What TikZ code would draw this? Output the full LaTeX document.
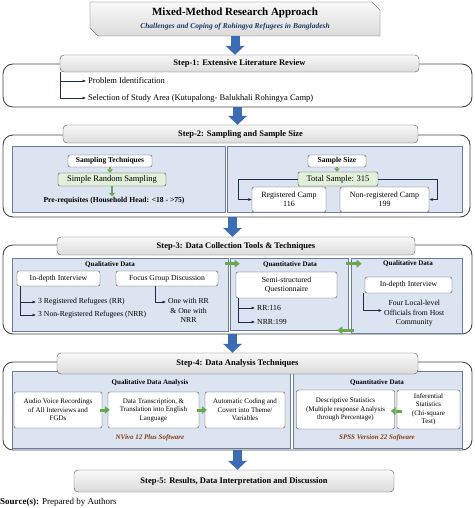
\documentclass[tikz,border=0pt]{standalone}
\usepackage{fontspec}
\setmainfont{Liberation Serif}
\usepackage{xcolor}
\usetikzlibrary{arrows.meta,positioning,shapes.misc,calc}
\definecolor{navy}{HTML}{1F3864}
\definecolor{arrblue}{HTML}{3D6CB5}
\definecolor{panelfill}{HTML}{DCE4F1}
\definecolor{panelline}{HTML}{6C7C9E}
\definecolor{gfill}{HTML}{E2EFD9}
\definecolor{grn}{HTML}{6AA84F}
\definecolor{linkc}{HTML}{1F2D4A}
\definecolor{softred}{HTML}{843C0C}
\tikzset{
  hdr/.style={draw=gray!65!black, rounded corners=4pt, top color=gray!5,
              bottom color=gray!28, inner sep=0pt,
              font=\fontsize{8.5}{10}\selectfont\bfseries},
  outer/.style={draw=gray!55!black, line width=0.9pt, rounded corners=10pt,
                inner sep=0pt},
  panel/.style={draw=panelline, fill=panelfill, line width=0.6pt, inner sep=0pt},
  box/.style={draw=gray!60!black, fill=white, rounded corners=2pt, align=center,
              font=\fontsize{7}{8.5}\selectfont, inner sep=1pt},
  mbox/.style={box, font=\fontsize{7.7}{9.2}\selectfont},
  hbox/.style={box, font=\fontsize{7.5}{8.5}\selectfont\bfseries},
  gbox/.style={box, fill=gfill, font=\fontsize{8.5}{9.5}\selectfont},
  ptitle/.style={font=\fontsize{7}{8}\selectfont\bfseries, inner sep=1pt},
  item/.style={font=\fontsize{8.5}{10}\selectfont, inner sep=2pt},
  txt/.style={font=\fontsize{7.7}{9.5}\selectfont, align=center, inner sep=2pt},
  soft/.style={font=\fontsize{7}{8}\selectfont\bfseries\itshape, text=softred},
  link/.style={draw=linkc, line width=0.5pt, -{Latex[length=3.5pt,width=3pt]}},
  bigarr/.style={draw=arrblue, line width=9pt,
                 -{Triangle[length=9pt,width=19pt,line width=0pt]}},
  garr/.style={draw=grn, line width=3pt,
               -{Triangle[length=5pt,width=8pt,line width=0pt]}},
  sgarr/.style={draw=grn, line width=2.5pt,
                -{Triangle[length=3.5pt,width=6pt,line width=0pt]}},
}
\begin{document}
\begin{tikzpicture}[x=1pt, y=-1pt]
  \useasboundingbox (0,0) rectangle (474,508);
  % title
  \node[chamfered rectangle, chamfered rectangle corners={north east,south west},
        chamfered rectangle xsep=5pt, draw=gray!65!black, top color=gray!5,
        bottom color=gray!28, minimum width=290pt, minimum height=34pt,
        inner sep=0pt, align=center] (ttl) at (235,19)
    {{\fontsize{11}{12}\selectfont\bfseries Mixed-Method Research Approach}\\[1pt]
     {\fontsize{7.5}{8}\selectfont\bfseries\itshape\color{navy}Challenges and
      Coping of Rohingya Refugees in Bangladesh}};
  % Step 1
  \node[outer, minimum width=469pt, minimum height=43pt] (b1) at (237.5,85.5) {};
  \node[hdr, minimum width=359pt, minimum height=17pt] (h1) at (239.5,63.5)
    {Step-1: Extensive Literature Review};
  \node[item, anchor=west] (p1) at (86,81) {Problem Identification};
  \node[item, anchor=west] (p2) at (86,98)
    {Selection of Study Area (Kutupalong- Balukhali Rohingya Camp)};
  \draw[link] (h1.south west) |- (p1.west);
  \draw[link] (h1.south west) |- (p2.west);
  % Step 2
  \node[outer, minimum width=467pt, minimum height=82pt] (b2) at (236.5,176) {};
  \node[panel, minimum width=213pt, minimum height=66pt] (pl2) at (118.5,179) {};
  \node[panel, minimum width=235pt, minimum height=66pt] (pr2) at (344.5,179) {};
  \node[hdr, minimum width=355pt, minimum height=18pt] (h2) at (240.5,134)
    {Step-2: Sampling and Sample Size};
  \node[hbox, minimum width=84pt, minimum height=12pt] (tech) at (110,161)
    {Sampling Techniques};
  \node[gbox, minimum width=108pt, minimum height=13pt] (srs) at (112,179.5)
    {Simple Random Sampling};
  \node[ptitle, font=\fontsize{7.6}{9}\selectfont\bfseries] (preq) at (114,201)
    {Pre-requisites (Household Head: <18 - >75)};
  \draw[sgarr] (tech.south) -- (tech.south |- srs.north);
  \draw[sgarr] (srs.south) -- (srs.south |- preq.north);
  \node[hbox, minimum width=58pt, minimum height=12pt] (ssize) at (337,161)
    {Sample Size};
  \node[gbox, minimum width=80pt, minimum height=14pt] (tot) at (338,179)
    {Total Sample: 315};
  \node[mbox, font=\fontsize{8}{9.5}\selectfont, minimum width=74pt,
        minimum height=25pt] (reg) at (289,199.5) {Registered Camp\\116};
  \node[mbox, font=\fontsize{8}{9.5}\selectfont, minimum width=89pt,
        minimum height=25pt] (nreg) at (384.5,199.5) {Non-registered Camp\\199};
  \draw[sgarr] (ssize.south) -- (ssize.south |- tot.north);
  \draw[link] (tot.west) -- ++(-60,0) |- (reg.west);
  \draw[link] (tot.east) -- ++(59,0) |- (nreg.east);
  % Step 3
  \node[outer, minimum width=469pt, minimum height=89pt] (b3) at (237.5,289.5) {};
  \node[panel, minimum width=216pt, minimum height=73pt] (pl3) at (120,294.5) {};
  \node[panel, minimum width=118pt, minimum height=72pt] (pm3) at (289,294) {};
  \node[panel, minimum width=111pt, minimum height=75pt] (pr3) at (406.5,295.5) {};
  \node[hdr, minimum width=358pt, minimum height=18pt] (h3) at (236,246)
    {Step-3: Data Collection Tools \& Techniques};
  \node[ptitle] (ql1) at (110,265) {Qualitative Data};
  \node[mbox, minimum width=83pt, minimum height=15pt] (idi) at (58.5,278.5)
    {In-depth Interview};
  \node[mbox, minimum width=102pt, minimum height=15pt] (fgd) at (167,278.5)
    {Focus Group Discussion};
  \node[txt, anchor=west] (rr) at (36,302) {3 Registered Refugees (RR)};
  \node[txt, anchor=west] (nrr) at (36,315) {3 Non-Registered Refugees (NRR)};
  \draw[link] ([xshift=3pt]idi.south west) |- (rr.west);
  \draw[link] ([xshift=3pt]idi.south west) |- (nrr.west);
  \node[txt, anchor=north west] (one) at (166,296) {One with RR\\\& One with\\NRR};
  \draw[link] ([xshift=-12pt]fgd.south) |- ([yshift=-6pt]one.north west);
  \node[ptitle] (qn1) at (290,265) {Quantitative Data};
  \node[mbox, minimum width=101pt, minimum height=26pt] (ssq) at (286.5,285)
    {Semi-structured\\Questionnaire};
  \node[txt, anchor=west] (rrn) at (255,308) {RR:116};
  \node[txt, anchor=west] (nrrn) at (255,322) {NRR:199};
  \draw[link] ([xshift=2pt]ssq.south west) |- (rrn.west);
  \draw[link] ([xshift=2pt]ssq.south west) |- (nrrn.west);
  \node[ptitle] (ql2) at (408,264) {Qualitative Data};
  \node[mbox, minimum width=87pt, minimum height=16pt] (idi2) at (408.5,285)
    {In-depth Interview};
  \node[txt, anchor=west] (off) at (382,313.5)
    {Four Local-level\\Officials from Host\\Community};
  \draw[link] ([xshift=-2pt]idi2.south west) |- ([yshift=3pt]off.west);
  \draw[garr] ([xshift=-3pt,yshift=-6pt]pl3.north east)
    -- ([xshift=10pt,yshift=-6pt]pm3.north west);
  \draw[garr] ([xshift=-2pt,yshift=-6pt]pm3.north east)
    -- ([xshift=11pt,yshift=-6pt]pr3.north west);
  \draw[garr] ([xshift=3pt,yshift=3pt]pr3.south west)
    -- ([xshift=-11pt]pm3.south east);
  % Step 4
  \node[outer, minimum width=469pt, minimum height=88pt] (b4) at (237.5,406) {};
  \node[panel, minimum width=278pt, minimum height=77pt] (pl4) at (151,409.5) {};
  \node[panel, minimum width=169pt, minimum height=77pt] (pr4) at (377.5,409.5) {};
  \node[hdr, minimum width=361pt, minimum height=21pt] (h4) at (237.5,363.5)
    {Step-4: Data Analysis Techniques};
  \node[ptitle] (qla) at (150,383) {Qualitative Data Analysis};
  \node[box, minimum width=88pt, minimum height=36pt] (aud) at (58,410)
    {Audio Voice Recordings\\of All Interviews and\\FGDs};
  \node[box, minimum width=91pt, minimum height=36pt] (trn) at (153.5,410)
    {Data Transcription, \&\\Translation into English\\Language};
  \node[box, minimum width=80pt, minimum height=36pt] (cod) at (245,410)
    {Automatic Coding and\\Covert into Theme/\\Variables};
  \draw[garr] ([xshift=-2pt]aud.east) -- ([xshift=2pt]trn.west);
  \draw[garr] ([xshift=-2pt]trn.east) -- ([xshift=2pt]cod.west);
  \node[soft] (nviv) at (150,438) {NVivo 12 Plus Software};
  \node[ptitle] (qn2) at (377,383) {Quantitative Data};
  \node[box, minimum width=98pt, minimum height=39pt] (desc) at (345.5,409.5)
    {Descriptive Statistics\\(Multiple response Analysis\\through Percentage)};
  \node[box, minimum width=63pt, minimum height=39pt] (inf) at (428.5,409.5)
    {Inferential\\Statistics\\(Chi-square\\Test)};
  \draw[garr, {Triangle[length=5pt,width=8pt,line width=0pt]}-]
    ([xshift=-4pt,yshift=-1.5pt]desc.east) -- ([xshift=5pt,yshift=-1.5pt]inf.west);
  \node[soft] (spss) at (377,438) {SPSS Version 22 Software};
  % Step 5
  \node[hdr, minimum width=320pt, minimum height=22pt] (h5) at (234,481)
    {Step-5: Results, Data Interpretation and Discussion};
  \node[anchor=west, inner sep=0pt, font=\fontsize{9}{10}\selectfont] (src)
    at (0,502) {\textbf{Source(s):} Prepared by Authors};
  % big arrows
  \draw[bigarr] (ttl.south) -- (ttl.south |- h1.north);
  \draw[bigarr] (b1.south) -- (b1.south |- h2.north);
  \draw[bigarr] ([xshift=-4pt]b2.south) -- ([xshift=-4pt]b2.south |- h3.north);
  \draw[bigarr] ([xshift=-5pt]b3.south) -- ([xshift=-5pt]b3.south |- h4.north);
  \draw[bigarr] (b4.south) -- (b4.south |- h5.north);
\end{tikzpicture}
\end{document}
